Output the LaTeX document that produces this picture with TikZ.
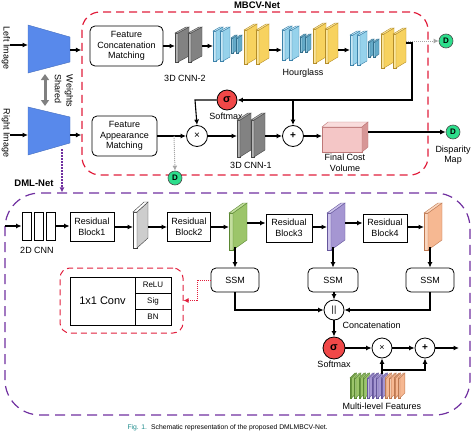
\documentclass[tikz,border=0pt]{standalone}
\usepackage{fontspec}
\setmainfont{Liberation Sans}
\usetikzlibrary{arrows.meta}
\definecolor{trapblue}{RGB}{88,137,235}
\definecolor{mbred}{RGB}{225,30,60}
\definecolor{dmlpurple}{RGB}{112,48,160}
\definecolor{dgreen}{RGB}{45,222,140}
\definecolor{sigred}{RGB}{240,72,72}
\definecolor{capteal}{RGB}{30,140,140}
\definecolor{cnnface}{RGB}{130,130,130}
\definecolor{cnnfront}{RGB}{180,180,180}
\definecolor{cnnedge}{RGB}{70,70,70}
\definecolor{hbface}{RGB}{150,210,235}
\definecolor{hbfront}{RGB}{200,232,246}
\definecolor{hbedge}{RGB}{60,130,170}
\definecolor{htface}{RGB}{100,170,200}
\definecolor{htfront}{RGB}{150,205,228}
\definecolor{htedge}{RGB}{50,110,140}
\definecolor{hyface}{RGB}{247,210,95}
\definecolor{hyfront}{RGB}{251,230,155}
\definecolor{hyedge}{RGB}{180,140,40}
\definecolor{lgface}{RGB}{205,205,205}
\definecolor{lgfront}{RGB}{255,255,255}
\definecolor{lgedge}{RGB}{60,60,60}
\definecolor{grface}{RGB}{156,197,106}
\definecolor{grfront}{RGB}{195,222,158}
\definecolor{gredge}{RGB}{90,135,50}
\definecolor{puface}{RGB}{165,150,210}
\definecolor{pufront}{RGB}{205,195,235}
\definecolor{puedge}{RGB}{100,85,155}
\definecolor{orface}{RGB}{246,184,146}
\definecolor{orfront}{RGB}{250,215,192}
\definecolor{oredge}{RGB}{190,120,80}
\definecolor{fcvfront}{RGB}{244,198,198}
\definecolor{fcvtop}{RGB}{249,220,220}
\definecolor{fcvside}{RGB}{215,150,150}
\definecolor{fcvedge}{RGB}{190,120,120}

% x, ytop, ybot, front width, depth x, depth y, face, front, edge
\newcommand{\slabshape}[9]{%
  \filldraw[fill=#8,draw=#9,line width=0.4pt] ({#1},{#2+#6}) rectangle ({#1+#4},{#3});
  \filldraw[fill=#7,draw=#9,line width=0.4pt] ({#1+#4},{#2+#6}) -- ({#1+#4+#5},{#2}) -- ({#1+#4+#5},{#3-#6}) -- ({#1+#4},{#3}) -- cycle;
  \filldraw[fill=#8,draw=#9,line width=0.4pt] ({#1},{#2+#6}) -- ({#1+#5},{#2}) -- ({#1+#4+#5},{#2}) -- ({#1+#4},{#2+#6}) -- cycle;
}
% hourglass module: x0, yc
\newcommand{\hgmod}[2]{%
  \slabshape{#1}{#2-17}{#2+17}{3}{7}{4}{hbface}{hbfront}{hbedge}
  \slabshape{#1+7}{#2-17}{#2+17}{3}{7}{4}{hbface}{hbfront}{hbedge}
  \slabshape{#1+18}{#2-9}{#2+9}{2}{4}{3}{htface}{htfront}{htedge}
  \slabshape{#1+23}{#2-9}{#2+9}{2}{4}{3}{htface}{htfront}{htedge}
  \slabshape{#1+31}{#2-20}{#2+20}{3}{10}{6}{hyface}{hyfront}{hyedge}
  \slabshape{#1+43}{#2-20}{#2+20}{3}{10}{6}{hyface}{hyfront}{hyedge}
}

\begin{document}
\begin{tikzpicture}[x=1pt,y=-1pt,
  every node/.style={font=\fontsize{9}{10.5}\selectfont},
  arr/.style={line width=1.1pt,-{Latex[length=5.5pt,width=5pt]}},
  plain/.style={line width=1.1pt},
  rbox/.style={draw,line width=0.8pt,rounded corners=5pt,align=center,inner sep=1pt},
  sbox/.style={draw,line width=0.8pt,align=center,inner sep=1pt},
  opcirc/.style={circle,draw,line width=0.8pt,fill=white,inner sep=0pt,minimum size=21pt,font=\bfseries\fontsize{10}{10}\selectfont},
  sigcirc/.style={opcirc,fill=sigred,font=\bfseries\fontsize{11}{11}\selectfont},
  dcirc/.style={circle,draw=black!70,line width=0.6pt,fill=dgreen,inner sep=0pt,minimum size=14pt,font=\bfseries\fontsize{8}{8}\selectfont},
  gdot/.style={draw=black!35,line width=1pt,dash pattern=on 1pt off 1pt,-{Latex[length=5pt,width=5pt]}},
  lbl/.style={align=center},
]
\useasboundingbox (0,0) rectangle (474,434);

% ---------------- big dashed frames
\node[draw=mbred,line width=1.2pt,dash pattern=on 8pt off 5pt,rounded corners=18pt,minimum width=346pt,minimum height=163pt,inner sep=0pt] (mbcv) at (255,93.5) {};
\node[font=\bfseries\fontsize{9.5}{10}\selectfont] (mbcvl) at (257,5) {MBCV-Net};
\node[draw=dmlpurple,line width=1.2pt,dash pattern=on 10pt off 6pt,rounded corners=35pt,minimum width=465pt,minimum height=222pt,inner sep=0pt] (dml) at (237.5,304) {};
\node[font=\bfseries\fontsize{9.5}{10}\selectfont] (dmll) at (34,183) {DML-Net};

% ---------------- input side
\filldraw[fill=trapblue,draw=trapblue!80!black,line width=0.4pt] (28,25) -- (70,37) -- (70,62) -- (28,73) -- cycle;
\filldraw[fill=trapblue,draw=trapblue!80!black,line width=0.4pt] (28,107) -- (70,117) -- (70,143) -- (28,155) -- cycle;
\coordinate (t1in) at (28,45);  \coordinate (t1out) at (70,50);
\coordinate (t2in) at (28,135); \coordinate (t2out) at (70,135);
\coordinate (t2bot) at (62,149);
\coordinate (lstart) at (10,45); \coordinate (rstart) at (10,135);
\node[rotate=-90] (limg) at (6,48) {Left Image};
\node[rotate=-90] (rimg) at (6,133) {Right Image};
\node[rotate=-90] (shw1) at (58,89) {Shared};
\node[rotate=-90] (shw2) at (69,91) {Weights};
\coordinate (sw1) at (45,74); \coordinate (sw2) at (45,106);
\draw[draw=black!50,line width=3pt,{Triangle[length=6pt,width=8pt]}-{Triangle[length=6pt,width=8pt]}] (sw1) -- (sw2);
\draw[arr] (lstart) -- (t1in);
\draw[arr] (rstart) -- (t2in);
\draw[arr] (t1out) -- (t1out -| mbcv.west);
\draw[arr] (t2out) -- (t2out -| mbcv.west);
\draw[draw=dmlpurple,line width=1.2pt,dash pattern=on 1.5pt off 1.5pt,-{Latex[length=5pt,width=5pt]}] (t2bot) -- (t2bot |- dml.north);

% ---------------- MBCV top branch
\node[rbox,minimum width=73pt,minimum height=40pt] (fcm) at (126.5,46) {Feature\\Concatenation\\Matching};
\slabshape{175}{27}{62}{3}{11}{6}{cnnface}{cnnfront}{cnnedge}
\slabshape{188}{27}{62}{3}{11}{6}{cnnface}{cnnfront}{cnnedge}
\node (cnn2l) at (185,78) {3D CNN-2};
\coordinate (cnn2in) at (175,46); \coordinate (cnn2out) at (202,46);
\draw[arr] (fcm.east) -- (cnn2in);

\hgmod{213}{44}
\hgmod{282}{43}
\hgmod{350}{48}
\node (hgl) at (303,73) {Hourglass};
\coordinate (hg1in) at (213,46); \coordinate (hg1out) at (269,50);
\coordinate (hg2in) at (282,50); \coordinate (hg2out) at (338,50);
\coordinate (hg3in) at (350,50); \coordinate (hg3out) at (406,43);
\coordinate (hg3dot) at (406,41);
\draw[arr] (cnn2out) -- (hg1in);
\draw[arr] (hg1out) -- (hg2in);
\draw[arr] (hg2out) -- (hg3in);

\node[dcirc] (d1) at (446,41) {D};
\draw[gdot] (hg3dot) -- (d1.west);

% ---------------- MBCV bottom branch
\node[rbox,minimum width=65pt,minimum height=40pt] (fam) at (124.5,136) {Feature\\Appearance\\Matching};
\node[opcirc,font=\fontsize{10}{10}\selectfont] (times1) at (197,136) {×};
\node[sigcirc,minimum size=20pt] (sig1) at (227,100) {σ};
\node (sm1) at (226,116) {Softmax};
\node[opcirc] (plus1) at (293,136) {+};
\slabshape{237}{113}{157}{3}{11}{7}{cnnface}{cnnfront}{cnnedge}
\slabshape{251}{113}{157}{3}{11}{7}{cnnface}{cnnfront}{cnnedge}
\node (cnn1l) at (251,165) {3D CNN-1};
\coordinate (cnn1in) at (237,136); \coordinate (cnn1out) at (265,136);

\filldraw[fill=fcvfront,draw=fcvedge,line width=0.4pt] (322,127) rectangle (362,152);
\filldraw[fill=fcvtop,draw=fcvedge,line width=0.4pt] (322,127) -- (328,122) -- (368,122) -- (362,127) -- cycle;
\filldraw[fill=fcvside,draw=fcvedge,line width=0.4pt] (362,127) -- (368,122) -- (368,147) -- (362,152) -- cycle;
\coordinate (fcvin) at (322,136); \coordinate (fcvout) at (368,132);
\node[lbl] (fcvl) at (345,163) {Final Cost\\Volume};

\node[dcirc] (d2) at (175,178) {D};
\node[dcirc] (d3) at (453,132) {D};
\node[lbl] (displ) at (453,155) {Disparity\\Map};

\coordinate (famj) at (174,136);
\draw[arr] (fam.east |- times1.west) -- (times1.west);
\draw[gdot] (famj) -- (d2.north);
\draw[arr] (times1.east) -- (cnn1in);
\draw[arr] (cnn1out) -- (plus1.west);
\draw[arr] (plus1.east) -- (fcvin);
\draw[arr] (fcvout) -- (d3.west);

\coordinate (fbr) at (412,43);
\coordinate (fbd) at (412,100);
\coordinate (fbj) at (293,100);
\coordinate (sigl) at (195,100);
\draw[arr] (hg3out) -- (fbr) -- (fbd) -- (sig1.east);
\draw[arr] (fbj) -- (plus1.north);
\draw[arr] (sig1.west) -- (sigl) -- (times1.north);

% ---------------- DML-Net
\node[draw,line width=0.8pt,minimum width=9pt,minimum height=28pt,inner sep=0pt] (c2a) at (26.5,226) {};
\node[draw,line width=0.8pt,minimum width=9pt,minimum height=28pt,inner sep=0pt] (c2b) at (38.5,226) {};
\node[draw,line width=0.8pt,minimum width=9pt,minimum height=28pt,inner sep=0pt] (c2c) at (51,226) {};
\node (c2l) at (37,250) {2D CNN};
\coordinate (dmlin) at (5,226);
\draw[arr] (dmlin) -- (c2a.west);

\node[sbox,minimum width=44pt,minimum height=29pt] (rb1) at (92,227) {Residual\\Block1};
\node[sbox,minimum width=43pt,minimum height=29pt] (rb2) at (189,227) {Residual\\Block2};
\node[sbox,minimum width=46pt,minimum height=28pt] (rb3) at (289,228) {Residual\\Block3};
\node[sbox,minimum width=44pt,minimum height=28pt] (rb4) at (385,228) {Residual\\Block4};

\slabshape{133}{202}{248}{4}{11}{10}{lgface}{lgfront}{lgedge}
\slabshape{229}{203}{250}{4}{14}{10}{grface}{grfront}{gredge}
\slabshape{327}{203}{250}{4}{14}{10}{puface}{pufront}{puedge}
\slabshape{424}{203}{250}{4}{14}{10}{orface}{orfront}{oredge}
\coordinate (s0in) at (133,227); \coordinate (s0out) at (148,227);
\coordinate (s1in) at (229,227); \coordinate (s1out) at (247,223);
\coordinate (s2in) at (327,227); \coordinate (s2out) at (345,223);
\coordinate (s3in) at (424,227);
\coordinate (s1b) at (235,247); \coordinate (s2b) at (333,247); \coordinate (s3b) at (430,247);

\draw[arr] (c2c.east) -- (rb1.west |- c2c.east);
\draw[arr] (rb1.east) -- (s0in);
\draw[arr] (s0out) -- (rb2.west);
\draw[arr] (rb2.east) -- (s1in);
\draw[arr] (s1out) -- (s1out -| rb3.west);
\draw[arr] (rb3.east |- s2in) -- (s2in);
\draw[arr] (s2out) -- (s2out -| rb4.west);
\draw[arr] (rb4.east |- s3in) -- (s3in);

\node[rbox,minimum width=48pt,minimum height=24pt] (ssm1) at (235,280) {SSM};
\node[rbox,minimum width=50pt,minimum height=24pt] (ssm2) at (333,280) {SSM};
\node[rbox,minimum width=48pt,minimum height=24pt] (ssm3) at (430,280) {SSM};
\draw[arr] (s1b) -- (ssm1.north);
\draw[arr] (s2b) -- (ssm2.north);
\draw[arr] (s3b) -- (ssm3.north);

\node[opcirc,minimum size=20pt,font=\fontsize{9}{9}\selectfont] (cat) at (334,310) {||};
\node[anchor=west] (catl) at (339,325) {Concatenation};
\draw[arr] (ssm1.south) |- (cat.west);
\draw[arr] (ssm2.south -| cat.north) -- (cat.north);
\draw[arr] (ssm3.south) |- (cat.east);

\node[sigcirc,minimum size=22pt] (sig2) at (334,348) {σ};
\node (sm2) at (334,364) {Softmax};
\node[opcirc,minimum size=20pt,font=\fontsize{9}{9}\selectfont] (times2) at (382,348) {×};
\node[opcirc,minimum size=20pt] (plus2) at (425,348) {+};
\coordinate (outend) at (459,348);
\draw[arr] (cat.south) -- (sig2.north);
\draw[arr] (sig2.east) -- (times2.west);
\draw[arr] (times2.east) -- (plus2.west);
\draw[arr] (plus2.east) -- (outend);

\foreach \i in {0,1,2,3} {\slabshape{350+4.4*\i}{373}{398}{1.5}{5}{5}{grface}{grfront}{gredge}}
\foreach \i in {4,5,6,7} {\slabshape{350+4.4*\i}{373}{398}{1.5}{5}{5}{puface}{pufront}{puedge}}
\foreach \i in {8,9,10,11} {\slabshape{350+4.4*\i}{373}{398}{1.5}{5}{5}{orface}{orfront}{oredge}}
\node (mlf) at (382,406) {Multi-level Features};
\coordinate (mlft) at (382,374);
\coordinate (mlfj) at (382,370);
\draw[arr] (mlft) -- (times2.south);
\draw[arr] (mlfj) -| (plus2.south);

% 1x1 conv block
\node[draw=mbred,line width=1pt,dash pattern=on 6pt off 4pt,rounded corners=10pt,minimum width=123pt,minimum height=65pt,inner sep=0pt] (cbox) at (121.5,300.5) {};
\node[sbox,minimum width=65pt,minimum height=48pt,font=\fontsize{11}{12}\selectfont] (conv) at (102.5,301) {1x1 Conv};
\node[sbox,minimum width=36pt,minimum height=16pt,font=\fontsize{8}{9}\selectfont] (relu) at (153,285) {ReLU};
\node[sbox,minimum width=36pt,minimum height=16pt,font=\fontsize{8}{9}\selectfont] (sigc) at (153,301) {Sig};
\node[sbox,minimum width=36pt,minimum height=16pt,font=\fontsize{8}{9}\selectfont] (bn) at (153,317) {BN};
\coordinate (rdc) at (197,280);
\draw[draw=mbred,line width=1pt,dash pattern=on 1pt off 1pt,-{Latex[length=5pt,width=5pt]}] (ssm1.west) -- (rdc) |- (cbox.east);

% caption
\node[anchor=west,font=\fontsize{6.8}{8}\selectfont] (cap) at (124,428) {\textcolor{capteal}{Fig. 1.}\hspace{0.6em}Schematic representation of the proposed DMLMBCV-Net.};
\end{tikzpicture}
\end{document}
